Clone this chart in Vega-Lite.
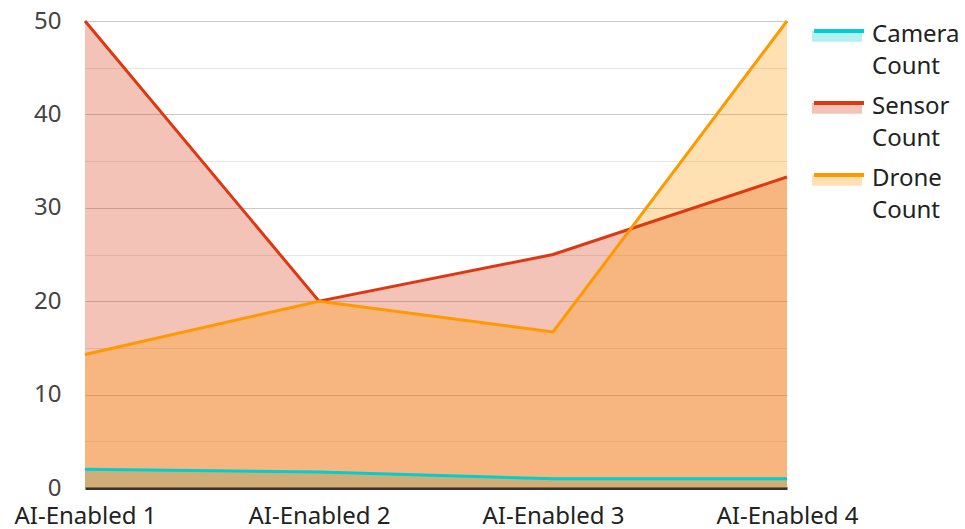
{
  "$schema": "https://vega.github.io/schema/vega-lite/v6.json",
  "width": 702,
  "height": 467,
  "autosize": "none",
  "padding": {"left": 85, "top": 21, "right": 178, "bottom": 41},
  "background": "white",
  "config": {"font": "Noto Sans", "view": {"stroke": null}, "style": {"guide-label": {"lineHeight": 32}}},
  "data": {
    "values": [
      {"category": "AI-Enabled 1", "series": "Camera Count", "value": 2.0},
      {"category": "AI-Enabled 2", "series": "Camera Count", "value": 1.7},
      {"category": "AI-Enabled 3", "series": "Camera Count", "value": 1.0},
      {"category": "AI-Enabled 4", "series": "Camera Count", "value": 1.0},
      {"category": "AI-Enabled 1", "series": "Sensor Count", "value": 50},
      {"category": "AI-Enabled 2", "series": "Sensor Count", "value": 20},
      {"category": "AI-Enabled 3", "series": "Sensor Count", "value": 25},
      {"category": "AI-Enabled 4", "series": "Sensor Count", "value": 33.3},
      {"category": "AI-Enabled 1", "series": "Drone Count", "value": 14.3},
      {"category": "AI-Enabled 2", "series": "Drone Count", "value": 20},
      {"category": "AI-Enabled 3", "series": "Drone Count", "value": 16.7},
      {"category": "AI-Enabled 4", "series": "Drone Count", "value": 50}
    ]
  },
  "encoding": {
    "x": {
      "field": "category",
      "type": "ordinal",
      "scale": {"type": "point", "padding": 0},
      "axis": {
        "title": null,
        "labelAngle": 0,
        "labelFontSize": 24,
        "labelColor": "#222222",
        "ticks": false,
        "grid": false,
        "domainColor": "#333333",
        "domainWidth": 3,
        "labelPadding": 16
      }
    },
    "y": {
      "field": "value",
      "type": "quantitative",
      "stack": null,
      "scale": {"domain": [0, 50], "nice": false},
      "axis": {
        "title": null,
        "values": [0, 5, 10, 15, 20, 25, 30, 35, 40, 45, 50],
        "labelExpr": "datum.value % 10 === 0 ? datum.label : ''",
        "labelFontSize": 24,
        "labelColor": "#444444",
        "ticks": false,
        "domain": false,
        "labelPadding": 24,
        "gridColor": {"condition": {"test": "datum.value % 10 === 0", "value": "#c8c8c8"}, "value": "#e6e6e6"},
        "gridWidth": 1.2
      }
    }
  },
  "layer": [
    {
      "mark": {"type": "area", "fillOpacity": 0.3},
      "encoding": {
        "color": {
          "field": "series",
          "type": "nominal",
          "scale": {"domain": ["Camera Count", "Sensor Count", "Drone Count"], "range": ["#00CED1", "#DC3912", "#FF9900"]},
          "legend": {
            "orient": "none",
            "legendX": 726,
            "legendY": -14,
            "title": null,
            "padding": 0,
            "symbolType": "M-0.9615,-0.088H0.9615V0.335H-0.9615Z",
            "symbolSize": 2704,
            "symbolOpacity": 0.3,
            "symbolStrokeWidth": 0,
            "labelExpr": "''",
            "labelFontSize": 1,
            "labelOffset": 5,
            "rowPadding": 37
          }
        }
      }
    },
    {
      "mark": {"type": "line", "strokeWidth": 3},
      "encoding": {
        "color": {
          "field": "series",
          "type": "nominal",
          "scale": {"domain": ["Camera Count", "Sensor Count", "Drone Count"], "range": ["#00CED1", "#DC3912", "#FF9900"]},
          "legend": {
            "orient": "none",
            "legendX": 726,
            "legendY": -14,
            "title": null,
            "padding": 0,
            "symbolType": "M-0.9615,-0.154H0.9615",
            "symbolSize": 2704,
            "symbolStrokeWidth": 4,
            "labelExpr": "split(datum.label, ' ')",
            "labelFontSize": 24,
            "labelColor": "#222222",
            "labelOffset": 5,
            "rowPadding": 0
          }
        }
      }
    }
  ],
  "resolve": {"legend": {"color": "independent"}}
}
